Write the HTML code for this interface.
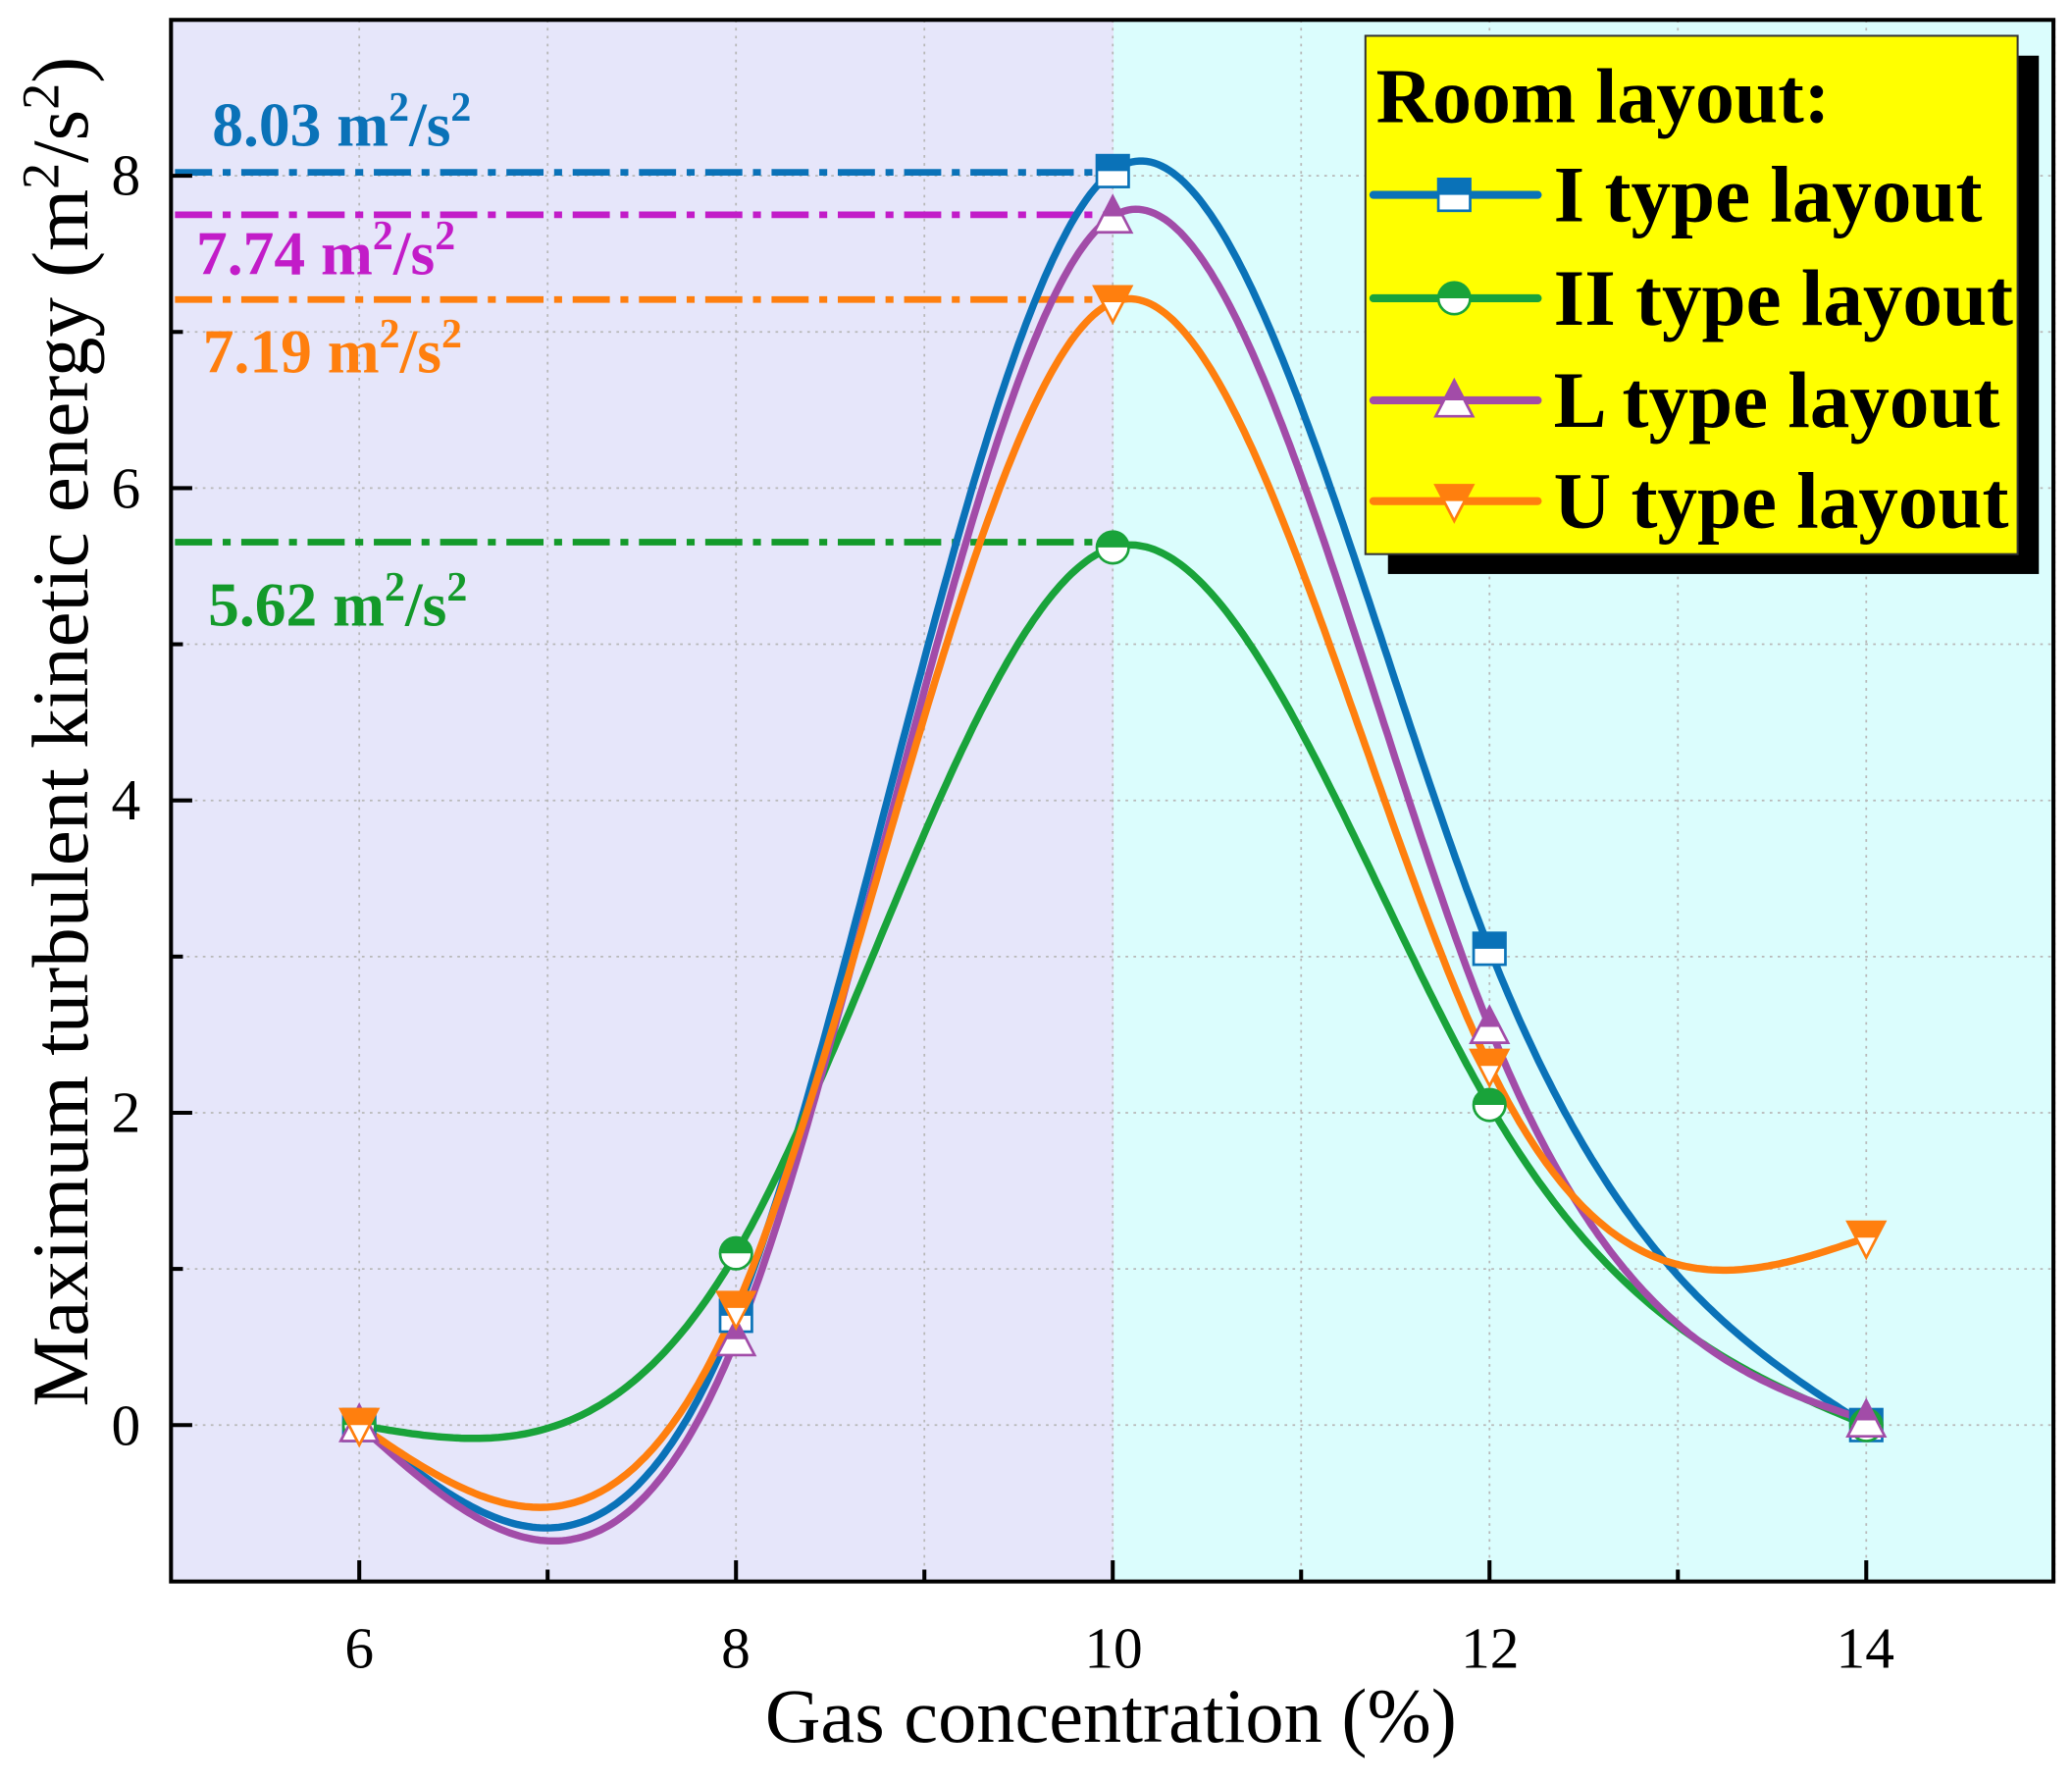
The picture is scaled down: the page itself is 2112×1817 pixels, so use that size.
<!DOCTYPE html>
<html><head><meta charset="utf-8"><style>
html,body{margin:0;padding:0;background:#fff}
svg{display:block}
text{font-family:"Liberation Serif",serif}
</style></head><body>
<svg id="s" width="2112" height="1817" viewBox="0 0 1563 1345" preserveAspectRatio="none" xmlns="http://www.w3.org/2000/svg">
<rect x="129" y="15" width="711" height="1178" fill="#e6e6fa"/>
<rect x="840" y="15" width="709" height="1178" fill="#dbfdfd"/>
<g id="grid" stroke="#b8b8b8" stroke-width="1.3" stroke-dasharray="2,4"></g>
<g id="ref" stroke-width="5" stroke-dasharray="28,8,6,8" fill="none">
<line x1="132" y1="130" x2="840" y2="130" stroke="#0a72b8"/>
<line x1="132" y1="162" x2="840" y2="162" stroke="#c21cc8"/>
<line x1="132" y1="226" x2="840" y2="226" stroke="#ff7f0e"/>
<line x1="132" y1="409" x2="840" y2="409" stroke="#139a2a"/>
</g>
<g font-weight="bold" font-size="47">
<text x="160" y="110" fill="#0a72b8">8.03 m<tspan dy="-19" font-size="31">2</tspan><tspan dy="19">/s</tspan><tspan dy="-19" font-size="31">2</tspan></text>
<text x="148" y="207" fill="#c21cc8">7.74 m<tspan dy="-19" font-size="31">2</tspan><tspan dy="19">/s</tspan><tspan dy="-19" font-size="31">2</tspan></text>
<text x="153" y="281" fill="#ff7f0e">7.19 m<tspan dy="-19" font-size="31">2</tspan><tspan dy="19">/s</tspan><tspan dy="-19" font-size="31">2</tspan></text>
<text x="157" y="472" fill="#139a2a">5.62 m<tspan dy="-19" font-size="31">2</tspan><tspan dy="19">/s</tspan><tspan dy="-19" font-size="31">2</tspan></text>
</g>
<g id="curves" fill="none" stroke-width="5.5"></g>
<g id="marks"></g>
<g id="ticks" stroke="#000" stroke-width="3"></g>
<rect x="129" y="15" width="1420" height="1178" fill="none" stroke="#000" stroke-width="3"/>
<g font-size="44" text-anchor="middle">
<text x="271" y="1258">6</text><text x="555" y="1258">8</text><text x="840" y="1258">10</text><text x="1124" y="1258">12</text><text x="1407" y="1258">14</text>
</g>
<g font-size="44" text-anchor="end">
<text x="106" y="1090">0</text><text x="106" y="854">2</text><text x="106" y="618">4</text><text x="106" y="383">6</text><text x="106" y="147">8</text>
</g>
<text x="838" y="1314" font-size="58" text-anchor="middle">Gas concentration (%)</text>
<text transform="translate(66,552) rotate(-90)" font-size="60" text-anchor="middle">Maximum turbulent kinetic energy (m<tspan dy="-22" font-size="40">2</tspan><tspan dy="22">/s</tspan><tspan dy="-22" font-size="40">2</tspan><tspan dy="22">)</tspan></text>
<rect x="1047" y="42" width="491" height="391" fill="#000"/>
<rect x="1030" y="27" width="492" height="391" fill="#ffff00" stroke="#333" stroke-width="1.5"/>
<text x="1038" y="92" font-size="59" font-weight="bold">Room layout:</text>
<g font-size="60" font-weight="bold">
<text x="1172" y="167">I type layout</text>
<text x="1172" y="245">II type layout</text>
<text x="1172" y="322">L type layout</text>
<text x="1172" y="398">U type layout</text>
</g>
<g id="leg"></g>
</svg>
<script>
var NS="http://www.w3.org/2000/svg";
function X(v){return 271+(v-6)*142.1}
function Y(v){return 1075-v*117.8}
function el(p,t,a){var e=document.createElementNS(NS,t);for(var k in a)e.setAttribute(k,a[k]);p.appendChild(e);return e}
var g=document.getElementById('grid');
for(var i=5;i<=15;i++)el(g,'line',{x1:X(i),x2:X(i),y1:15,y2:1193});
for(var j=0;j<=9;j++)el(g,'line',{x1:129,x2:1549,y1:Y(j),y2:Y(j)});
var t=document.getElementById('ticks');
for(var i=6;i<=14;i++){var L=(i%2==0)?16:9;el(t,'line',{x1:X(i),x2:X(i),y1:1193,y2:1193-L});}
for(var j=0;j<=8;j++){var L=(j%2==0)?16:9;el(t,'line',{x1:129,x2:129+L,y1:Y(j),y2:Y(j)});}
var xs=[6,8,10,12,14];
var S=[
{c:"#0a72b8",y:[0,0.7,8.03,3.05,0],m:"sq"},
{c:"#19a33a",y:[0,1.1,5.62,2.05,0],m:"ci"},
{c:"#a24ca8",y:[0,0.55,7.74,2.55,0.03],m:"up"},
{c:"#ff7f0e",y:[0,0.75,7.19,2.3,1.2],m:"dn"}];
function spline(x,y){var n=x.length,h=[],a=[],l=[1],mu=[0],z=[0],c=new Array(n).fill(0),b=[],d=[];
for(var i=0;i<n-1;i++)h[i]=x[i+1]-x[i];
for(var i=1;i<n-1;i++)a[i]=3/h[i]*(y[i+1]-y[i])-3/h[i-1]*(y[i]-y[i-1]);
for(var i=1;i<n-1;i++){l[i]=2*(x[i+1]-x[i-1])-h[i-1]*mu[i-1];mu[i]=h[i]/l[i];z[i]=(a[i]-h[i-1]*z[i-1])/l[i];}
l[n-1]=1;z[n-1]=0;c[n-1]=0;
for(var j=n-2;j>=0;j--){c[j]=z[j]-mu[j]*c[j+1];b[j]=(y[j+1]-y[j])/h[j]-h[j]*(c[j+1]+2*c[j])/3;d[j]=(c[j+1]-c[j])/(3*h[j]);}
return function(v){var i=Math.min(n-2,Math.max(0,Math.floor((v-x[0])/2)));var dx=v-x[i];return y[i]+b[i]*dx+c[i]*dx*dx+d[i]*dx*dx*dx;}}
var cg=document.getElementById('curves'),mg=document.getElementById('marks'),lg=document.getElementById('leg');
function marker(p,m,cx,cy,c){var r=12;
if(m=="sq"){el(p,'rect',{x:cx-r,y:cy-r,width:2*r,height:2*r,fill:"#fff",stroke:c,"stroke-width":2});el(p,'rect',{x:cx-r,y:cy-r,width:2*r,height:r,fill:c});}
else if(m=="ci"){el(p,'circle',{cx:cx,cy:cy,r:r,fill:"#fff",stroke:c,"stroke-width":2});el(p,'path',{d:"M"+(cx-r)+","+cy+"A"+r+","+r+" 0 0 1 "+(cx+r)+","+cy+"Z",fill:c});}
else if(m=="up"){el(p,'path',{d:"M"+cx+","+(cy-r-3)+"L"+(cx+r+2)+","+(cy+r)+"L"+(cx-r-2)+","+(cy+r)+"Z",fill:"#fff",stroke:c,"stroke-width":2});el(p,'path',{d:"M"+cx+","+(cy-r-3)+"L"+(cx+r/2+1)+","+cy+"L"+(cx-r/2-1)+","+cy+"Z",fill:c});}
else{el(p,'path',{d:"M"+cx+","+(cy+r+3)+"L"+(cx+r+2)+","+(cy-r)+"L"+(cx-r-2)+","+(cy-r)+"Z",fill:"#fff",stroke:c,"stroke-width":2});el(p,'path',{d:"M"+(cx-r-2)+","+(cy-r)+"L"+(cx+r+2)+","+(cy-r)+"L"+(cx+r/2+1)+","+cy+"L"+(cx-r/2-1)+","+cy+"Z",fill:c});}}
var ly=[147,225,302,378];
S.forEach(function(s,k){var f=spline(xs,s.y),d="";
for(var v=6;v<=14.0001;v+=0.02)d+=(d?"L":"M")+X(v).toFixed(1)+","+Y(f(v)).toFixed(1);
el(cg,'path',{d:d,stroke:s.c});
xs.forEach(function(x,i){marker(mg,s.m,X(x),Y(s.y[i]),s.c)});
el(lg,'line',{x1:1036,x2:1160,y1:ly[k],y2:ly[k],stroke:s.c,"stroke-width":6,"stroke-linecap":"round"});
marker(lg,s.m,1097,ly[k],s.c);});
</script>
</body></html>
